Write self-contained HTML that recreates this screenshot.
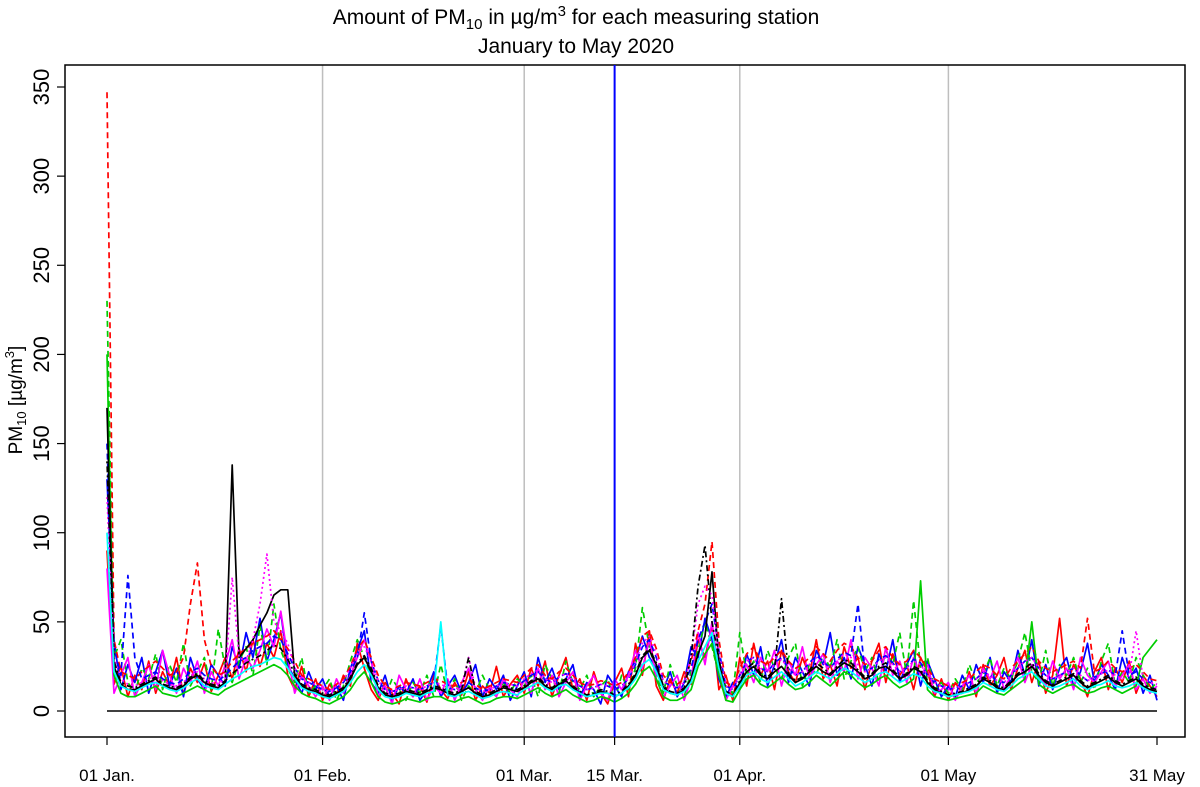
<!DOCTYPE html>
<html><head><meta charset="utf-8">
<style>
html,body{margin:0;padding:0;background:#fff;}
svg{display:block;font-family:"Liberation Sans",Arial,sans-serif;}
</style></head>
<body>
<svg id="chart" width="1200" height="787" viewBox="0 0 1200 787" xmlns="http://www.w3.org/2000/svg">
<text x="576" y="24" font-size="21" text-anchor="middle">Amount of PM<tspan font-size="15" dy="5">10</tspan><tspan dy="-5"> in µg/m</tspan><tspan font-size="15" dy="-8">3</tspan><tspan dy="8"> for each measuring station</tspan></text>
<text x="576" y="53" font-size="21" text-anchor="middle">January to May 2020</text>
<text transform="translate(22,400) rotate(-90)" font-size="19" text-anchor="middle">PM<tspan font-size="13" dy="4">10</tspan><tspan dy="-4"> [µg/m</tspan><tspan font-size="13" dy="-8">3</tspan><tspan dy="8">]</tspan></text>
<g id="grid"></g>
<g id="series"></g>
<g id="axes"></g>
</svg>
<script>
const dayLabels = ["01 Jan.","01 Feb.","01 Mar.","15 Mar.","01 Apr.","01 May","31 May"];
const dayTicks = [0,31,60,73,91,121,151];
const gridDays = [31,60,91,121];
const lockdownDay = 73;
const yTicks = [0,50,100,150,200,250,300,350];

const sRed = [90,15,25,8,20,12,28,10,22,14,30,9,24,16,27,11,20,30,18,35,22,40,25,38,30,45,20,12,25,8,18,
6,15,9,20,14,38,24,12,6,16,10,4,18,8,14,5,20,12,7,16,9,22,6,14,10,25,8,15,20,
10,24,14,28,8,20,30,12,18,6,22,10,4,16,24,8,38,20,45,14,6,18,10,22,15,40,30,48,12,20,6,
30,14,38,20,28,12,34,22,16,30,20,40,18,26,14,36,24,30,12,28,38,16,32,20,26,12,30,22,8,18,
6,16,10,22,8,26,14,20,30,12,24,34,16,28,10,20,52,14,26,18,8,22,30,12,24,16,28,10,20,14,8];
const sBlue = [130,40,12,26,16,30,10,22,34,14,24,8,30,18,12,26,20,14,36,24,44,30,52,28,40,55,26,18,10,22,12,
18,8,14,6,24,34,45,16,10,20,6,14,10,18,6,12,22,8,14,20,10,16,26,8,18,12,20,6,14,
22,8,30,16,24,12,18,26,8,16,12,4,20,14,8,22,28,42,30,24,12,22,8,16,36,30,52,40,18,8,16,
12,32,20,36,14,26,40,16,30,22,14,34,26,44,20,30,18,36,26,14,32,22,40,16,26,34,14,28,18,8,
14,8,20,12,26,16,30,10,22,16,34,20,40,14,26,12,24,30,14,22,38,16,26,20,12,30,18,24,10,20,6];
const sGreenDash = [230,30,40,16,10,24,18,32,12,26,16,38,14,22,30,12,46,24,16,28,36,20,48,26,60,34,24,16,30,10,14,
12,18,6,14,28,40,30,20,12,8,18,12,6,16,10,20,8,26,10,18,6,14,10,20,12,8,16,10,18,
14,20,8,26,18,10,28,16,12,20,8,14,18,6,20,12,24,58,36,20,10,26,14,8,22,34,50,36,20,14,10,
44,20,28,16,34,24,18,30,38,14,26,20,32,24,40,18,28,36,22,30,16,34,26,44,20,62,24,30,12,16,
10,18,12,26,16,20,30,14,24,18,28,44,22,16,34,14,26,20,30,16,24,12,28,38,14,22,16,30,20,12,16];
const sMagenta = [80,10,20,30,8,16,26,12,34,20,10,24,16,28,10,22,14,26,40,18,30,24,34,46,36,56,30,10,20,14,8,
14,6,18,10,20,30,40,28,8,14,4,20,12,8,18,6,14,10,18,6,16,24,12,6,14,8,18,12,8,
18,10,24,12,20,8,16,22,6,14,20,10,6,18,12,20,34,24,40,18,8,14,20,6,18,44,26,50,22,6,14,
20,26,16,30,22,34,14,28,20,36,18,26,32,16,28,22,40,18,30,24,14,36,20,28,16,30,20,26,10,12,
16,6,14,20,10,24,18,28,12,20,30,16,26,20,14,28,18,24,12,30,20,16,22,28,14,20,26,12,18,10,14];
const sRedDash = [347,40,22,20,18,22,25,28,24,20,22,30,60,83,40,25,20,22,28,32,35,38,40,42,45,40,35,28,20,18,16,
14,12,15,18,25,35,40,30,20,14,12,14,16,15,14,16,18,17,15,14,16,18,15,12,14,16,18,17,16,
20,24,26,20,18,22,24,20,16,14,15,17,16,14,16,22,30,42,45,35,20,16,15,18,28,45,60,95,40,16,14,
24,32,36,28,26,30,34,28,24,26,30,36,32,28,34,38,36,30,26,28,34,36,30,26,28,34,30,24,18,16,
14,15,16,18,22,26,24,20,18,24,28,32,36,28,24,22,24,26,28,24,52,22,24,28,24,22,24,26,22,18,17];
const sGreen = [200,20,10,8,8,10,12,14,10,9,8,10,12,14,12,10,9,12,14,16,18,20,22,24,26,24,20,14,10,8,7,
5,4,6,8,12,18,22,16,8,5,4,5,7,6,5,7,8,8,6,5,7,8,6,4,5,7,8,8,7,
9,11,13,10,8,10,12,9,7,5,6,8,7,5,7,10,15,22,25,18,8,6,6,8,12,25,32,38,20,6,5,
12,18,20,15,13,16,19,15,12,13,16,20,17,14,18,22,20,16,13,15,18,20,16,13,15,18,73,12,8,7,
6,7,8,9,10,14,12,10,9,12,15,18,50,15,12,10,12,14,15,12,10,11,13,14,12,10,12,14,30,35,40];
const sBlueDash = [150,35,20,76,30,18,20,22,18,16,15,18,22,24,20,18,17,20,24,28,30,34,36,38,42,40,32,24,18,16,14,
12,11,13,16,22,30,55,28,17,12,11,12,14,13,12,14,16,48,13,12,14,16,13,11,12,14,16,15,14,
17,20,22,18,16,19,21,17,14,12,13,15,14,12,14,18,26,36,40,30,17,14,13,16,24,40,50,60,34,14,12,
20,28,30,24,22,27,30,24,20,22,27,31,28,24,29,33,31,60,22,24,29,31,27,22,24,29,27,20,16,14,
12,13,14,16,18,22,20,17,16,20,24,28,30,24,20,18,20,22,24,20,17,19,21,23,20,45,20,22,18,16,15];
const sBlack = [170,25,15,12,12,14,16,18,14,13,12,14,18,20,16,14,13,16,138,30,35,40,48,55,65,68,68,20,14,12,11,
9,8,10,12,18,26,30,22,13,9,8,9,11,10,9,11,13,12,10,9,11,13,10,8,9,11,13,12,11,
13,16,18,14,12,15,17,13,10,8,9,11,10,8,10,14,20,30,34,26,13,10,9,12,18,32,42,78,28,10,8,
16,22,25,20,18,22,25,20,16,18,22,25,22,20,24,27,25,22,18,20,24,25,22,18,20,24,22,16,12,10,
8,9,10,12,14,18,16,13,12,16,20,22,25,20,16,14,16,18,20,16,13,15,17,19,16,14,16,18,14,12,11];
const sMagentaDot = [120,30,18,15,14,16,18,20,17,15,14,16,20,22,18,16,15,18,75,30,28,40,60,88,50,45,38,24,18,16,15,
12,11,14,17,24,32,36,28,17,12,11,12,14,13,12,14,16,15,13,12,14,30,13,11,12,14,16,15,14,
18,21,23,18,16,19,21,17,14,12,13,15,14,12,14,18,28,38,42,32,17,14,13,16,30,60,70,65,32,14,12,
20,28,30,24,22,26,29,24,20,22,26,30,27,24,28,32,30,26,22,24,28,30,26,22,24,28,26,20,16,14,
12,13,14,16,18,22,20,17,16,20,24,28,30,24,20,18,20,22,24,20,17,19,21,23,20,18,20,45,18,16,15];
const sCyan = [100,22,14,12,11,13,15,16,14,12,11,13,16,18,14,13,12,15,18,20,23,25,26,28,30,29,24,18,13,11,10,
8,7,9,11,16,22,26,20,12,8,7,8,10,9,8,10,11,50,9,8,10,11,9,7,8,10,11,10,9,
12,14,16,13,11,14,15,12,10,8,9,10,10,8,10,13,18,26,29,22,12,10,9,11,16,28,36,44,24,10,8,
14,20,22,18,16,19,22,18,14,16,19,22,20,18,21,24,22,19,16,18,21,22,19,16,18,21,19,14,11,10,
8,9,10,11,13,16,14,12,11,14,18,20,22,18,14,13,14,16,18,14,12,14,15,17,14,13,14,16,13,11,10];
const sBlackDashDot = [140,28,16,14,13,15,17,19,15,14,13,15,19,21,17,15,14,17,21,24,27,29,31,34,37,35,29,21,15,13,12,
10,9,11,13,19,27,31,24,14,10,9,10,12,11,10,12,14,13,11,10,12,30,11,9,10,12,14,13,12,
14,17,19,15,13,16,18,14,11,9,10,12,11,9,11,15,21,31,35,27,14,11,10,13,30,70,93,50,29,11,9,
17,24,27,21,19,23,63,21,17,19,23,27,24,21,25,29,27,23,19,21,25,27,23,19,21,25,23,17,13,11,
9,10,11,13,15,19,17,14,13,17,21,24,27,21,17,15,17,19,21,17,14,16,18,20,17,15,17,19,15,13,12];

const seriesList = [
 {name:"station-red", data:sRed, color:"#FF0000", dash:""},
 {name:"station-blue", data:sBlue, color:"#0000FF", dash:""},
 {name:"station-green-dashed", data:sGreenDash, color:"#00CD00", dash:"6,4"},
 {name:"station-magenta", data:sMagenta, color:"#FF00FF", dash:""},
 {name:"station-red-dashed", data:sRedDash, color:"#FF0000", dash:"6,4"},
 {name:"station-green", data:sGreen, color:"#00CD00", dash:""},
 {name:"station-blue-dashed", data:sBlueDash, color:"#0000FF", dash:"6,4"},
 {name:"station-black", data:sBlack, color:"#000000", dash:""},
 {name:"station-magenta-dotted", data:sMagentaDot, color:"#FF00FF", dash:"2,3"},
 {name:"station-black-dashdot", data:sBlackDashDot, color:"#000000", dash:"2,3,6,3"},
 {name:"station-cyan", data:sCyan, color:"#00FFFF", dash:""}
];

const NS="http://www.w3.org/2000/svg";
const X0=107, X1=1157, Y0=711, Y350=87;
const x = d => X0 + d*(X1-X0)/151;
const y = v => Y0 - v*(Y0-Y350)/350;
function mk(tag, attrs, parent){const e=document.createElementNS(NS,tag);for(const k in attrs)e.setAttribute(k,attrs[k]);parent.appendChild(e);return e;}
const grid=document.getElementById('grid'), ser=document.getElementById('series'), axes=document.getElementById('axes');

gridDays.forEach(d=>{
 const l=mk('line',{x1:x(d),x2:x(d),y1:65,y2:737,stroke:"#BEBEBE","stroke-width":1.5},grid);
 
 
});

seriesList.forEach(s=>{
 const pts=s.data.map((v,i)=>x(i).toFixed(1)+","+y(v).toFixed(1)).join(" ");
 const p=mk('polyline',{points:pts,fill:"none",stroke:s.color,"stroke-width":1.7,"stroke-dasharray":s.dash,"stroke-linejoin":"round"},ser);
 
 
});
const zl=mk('line',{x1:x(0),x2:x(151),y1:y(0),y2:y(0),stroke:"#000","stroke-width":1.5},ser);



const bl=mk('line',{x1:x(lockdownDay),x2:x(lockdownDay),y1:65,y2:737,stroke:"#0000FF","stroke-width":2},grid.parentNode);



const box=mk('rect',{x:65,y:65,width:1120,height:672,fill:"none",stroke:"#000","stroke-width":1.5},axes);



yTicks.forEach(v=>{
 const t=mk('line',{x1:57,x2:65,y1:y(v),y2:y(v),stroke:"#000","stroke-width":1.2},axes);
 
 
 const tx=mk('text',{transform:`translate(49,${y(v)}) rotate(-90)`,"font-size":22,"text-anchor":"middle"},axes);
 tx.textContent=v;
 
 
});
dayTicks.forEach((d,i)=>{
 const t=mk('line',{x1:x(d),x2:x(d),y1:737,y2:745,stroke:"#000","stroke-width":1.2},axes);
 
 
 const tx=mk('text',{x:x(d),y:781,"font-size":17,"text-anchor":"middle"},axes);
 tx.textContent=dayLabels[i];
 
 
});
</script>
</body></html>
